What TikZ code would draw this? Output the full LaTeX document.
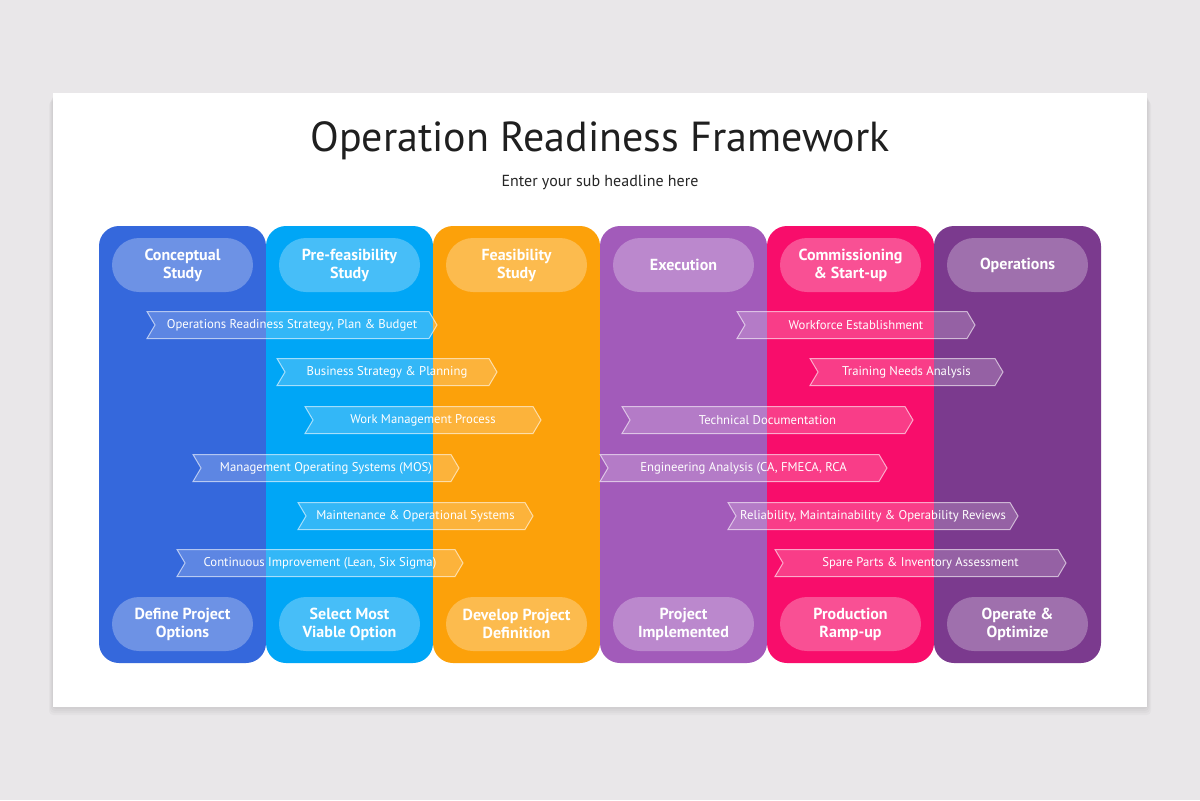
\documentclass[tikz,border=0pt]{standalone}
\usepackage{fontspec}
\setmainfont{PT Sans}
\usetikzlibrary{shapes.misc}
\definecolor{slidegray}{RGB}{233,231,233}
\definecolor{royal}{RGB}{53,104,220}
\definecolor{sky}{RGB}{0,166,246}
\definecolor{amber}{RGB}{252,161,10}
\definecolor{orchid}{RGB}{162,91,186}
\definecolor{rose}{RGB}{248,13,107}
\definecolor{plum}{RGB}{123,58,142}

\begin{document}
\begin{tikzpicture}[x=0.5pt, y=-0.5pt,
    phase/.style={fill=white, fill opacity=0.28, text opacity=1, text=white,
      rounded corners=13.5pt, minimum width=70.5pt, minimum height=27pt,
      inner sep=0pt, align=center, font=\fontsize{8}{9}\selectfont\bfseries},
    banner/.style={fill=white, fill opacity=0.2, draw=white, draw opacity=0.6, line width=0.5pt},
    bannertext/.style={text=white, inner sep=0pt, font=\fontsize{6.35}{7}\selectfont}]
    \useasboundingbox (0,0) rectangle (1200,800);
    \fill[slidegray] (0,0) rectangle (1200,800);
    % slide with soft shadow
    \foreach \s in {2,4,6,8}
      \fill[black, opacity=0.025, rounded corners=2pt] (53-\s/2,93+\s) rectangle (1147+\s/2,707+\s);
    \fill[white] (53,93) rectangle (1147,707);

    \node[font=\fontsize{21}{26}\selectfont, text=black!88] (title) at (600,141) {Operation Readiness Framework};
    \node[font=\fontsize{8}{10}\selectfont, text=black!85] (subtitle) at (600,182) {Enter your sub headline here};

    % phase columns
    \foreach \col [count=\i from 0] in {royal,sky,amber,orchid,rose,plum}
      \fill[\col, rounded corners=10pt] ({99+167*\i},226) rectangle ({266+167*\i},663);

    % phase headers and outcomes
    \foreach \lbl [count=\i from 0] in {Conceptual\\Study, Pre-feasibility\\Study, Feasibility\\Study,
        Execution, Commissioning\\\& Start-up, Operations}
      \node[phase] (top\i) at ({182.5+167*\i},265) {\lbl};
    \foreach \lbl [count=\i from 0] in {Define Project\\Options, Select Most\\Viable Option, Develop Project\\Definition,
        Project\\Implemented, Production\\Ramp-up, Operate \&\\Optimize}
      \node[phase] (bot\i) at ({182.5+167*\i},624) {\lbl};

    % activity banners
    \foreach \xa/\xb/\yy/\lbl [count=\k] in {
        147/437/325/{Operations Readiness Strategy, Plan \& Budget},
        277/497/372/{Business Strategy \& Planning},
        305/541/420/{Work Management Process},
        193/459/468/{Management Operating Systems (MOS)},
        298/533/516/{Maintenance \& Operational Systems},
        177/463/563/{Continuous Improvement (Lean, Six Sigma)},
        737/975/325/{Workforce Establishment},
        810/1003/372/{Training Needs Analysis},
        622/913/420/{Technical Documentation},
        600/887/468/{Engineering Analysis (CA, FMECA, RCA},
        728/1018/516/{Reliability, Maintainability \& Operability Reviews},
        775/1066/563/{Spare Parts \& Inventory Assessment}} {
      \filldraw[banner] (\xa,\yy-13.5) -- (\xb-8,\yy-13.5) -- (\xb,\yy) -- (\xb-8,\yy+13.5)
        -- (\xa,\yy+13.5) -- (\xa+8,\yy) -- cycle;
      \node[bannertext] (act\k) at ({(\xa+\xb)/2},\yy) {\lbl};
    }
\end{tikzpicture}
\end{document}
